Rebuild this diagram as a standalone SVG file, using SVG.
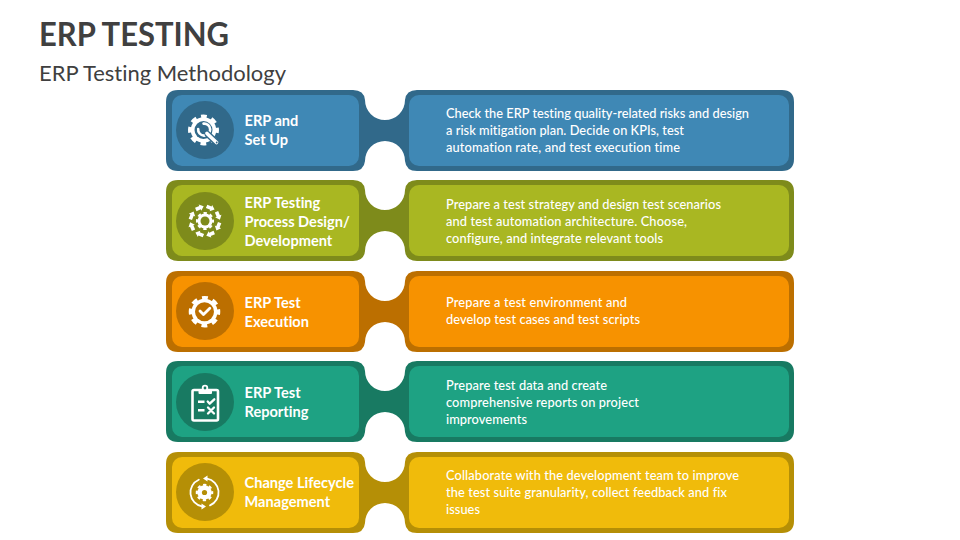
<svg xmlns="http://www.w3.org/2000/svg" width="960" height="540" viewBox="0 0 960 540">
<defs>
<style>
text{font-family:"Lato","Liberation Sans",sans-serif;font-variant-ligatures:none}
.t{font-size:32px;font-weight:700;fill:#404040}
.s{font-size:21.8px;fill:#404040}
.h{font-size:14.6px;font-weight:700;fill:#fff}
.b{font-size:12.8px;font-weight:500;fill:#fff}
.w{fill:#fff}
.ln{fill:none;stroke:#fff;stroke-linecap:round;stroke-linejoin:round}
</style>
<path id="shell" d="M178 0H353Q364 0 365 10A20 20 0 0 0 405 10Q406 0 417 0H782Q794 0 794 12V69Q794 81 782 81H417Q406 81 405 71A20 20 0 0 0 365 71Q364 81 353 81H178Q166 81 166 69V12Q166 0 178 0Z"/>
<rect id="il" x="172" y="5" width="187" height="71" rx="10"/>
<rect id="ir" x="409" y="5" width="380" height="71" rx="10"/>
<g id="gear">
<circle r="12" fill="#fff"/>
<circle r="12.8" fill="none" stroke="#fff" stroke-width="3.6" stroke-dasharray="5.4 4.65" stroke-dashoffset="2.7"/>
</g>
<path id="arw" d="M-4 -16H0.600V-17.600L4.600 -14.200L0.600 -10.800V-12.400H-4Z" fill="#fff"/>
</defs>
<rect width="960" height="540" fill="#fff"/>
<text class="t" x="39" y="46" textLength="190" lengthAdjust="spacingAndGlyphs">ERP TESTING</text>
<text class="s" x="39" y="81" textLength="247" lengthAdjust="spacingAndGlyphs">ERP Testing Methodology</text>
<g id="connectors"></g>
<g id="node-1" transform="translate(0,90)">
<use href="#shell" fill="#31698A"/><use href="#il" fill="#3F88B5"/><use href="#ir" fill="#3F88B5"/>
<circle cx="205" cy="40" r="29" fill="#31698A"/>
<use href="#gear" transform="translate(203.500,40) scale(1.060)"/>
<circle cx="203.500" cy="40" r="9" fill="#31698A"/>
<path class="ln" d="M200.500 35.500A6 6 0 1 0 208 35.500" stroke-width="2.600" transform="rotate(-45 203.500 40)"/>
<path d="M208 44.500L216.500 52.500" stroke="#31698A" stroke-width="6.500" stroke-linecap="round"/>
<path d="M207 43.500L216.500 52.500" stroke="#fff" stroke-width="3.600" stroke-linecap="round"/>
<circle cx="216.700" cy="52.500" r="0.900" fill="#31698A"/>
<text class="h" x="244.500" y="36">ERP and</text><text class="h" x="244.500" y="55">Set Up</text>
<text class="b" x="446" y="28" textLength="303">Check the ERP testing quality-related risks and design</text>
<text class="b" x="446" y="45" textLength="238">a risk mitigation plan. Decide on KPIs, test</text>
<text class="b" x="446" y="62" textLength="234">automation rate, and test execution time</text>
</g>
<g id="node-2" transform="translate(0,180)">
<use href="#shell" fill="#7E8B1B"/><use href="#il" fill="#A9B722"/><use href="#ir" fill="#A9B722"/>
<circle cx="205" cy="41" r="29" fill="#7E8B1B"/>
<use href="#gear" transform="translate(205,41) scale(.62)"/>
<circle cx="205" cy="41" r="4.500" fill="#7E8B1B"/>
<g transform="translate(205,41)">
<use href="#arw" transform="rotate(22)"/><use href="#arw" transform="rotate(67)"/><use href="#arw" transform="rotate(112)"/><use href="#arw" transform="rotate(157)"/><use href="#arw" transform="rotate(202)"/><use href="#arw" transform="rotate(247)"/><use href="#arw" transform="rotate(292)"/><use href="#arw" transform="rotate(337)"/>
</g>
<text class="h" x="244.500" y="28">ERP Testing</text><text class="h" x="244.500" y="47">Process Design/</text><text class="h" x="244.500" y="66">Development</text>
<text class="b" x="446" y="29" textLength="275">Prepare a test strategy and design test scenarios</text>
<text class="b" x="446" y="46" textLength="241">and test automation architecture. Choose,</text>
<text class="b" x="446" y="63" textLength="217">configure, and integrate relevant tools</text>
</g>
<g id="node-3" transform="translate(0,271)">
<use href="#shell" fill="#BC6F00"/><use href="#il" fill="#F79200"/><use href="#ir" fill="#F79200"/>
<circle cx="205" cy="40" r="29" fill="#BC6F00"/>
<use href="#gear" transform="translate(204.500,40.700) scale(1.080)"/>
<circle cx="204.500" cy="40.700" r="9.500" fill="#BC6F00"/>
<path class="ln" d="M200 40L203.500 43.600L209.800 37.200" stroke-width="2.800"/>
<text class="h" x="244.500" y="37">ERP Test</text><text class="h" x="244.500" y="56">Execution</text>
<text class="b" x="446" y="36" textLength="181">Prepare a test environment and</text>
<text class="b" x="446" y="53" textLength="194">develop test cases and test scripts</text>
</g>
<g id="node-4" transform="translate(0,361)">
<use href="#shell" fill="#187A62"/><use href="#il" fill="#1EA283"/><use href="#ir" fill="#1EA283"/>
<circle cx="205" cy="41" r="29" fill="#187A62"/>
<rect class="ln" x="192.500" y="29" width="25.500" height="30.500" rx="1.500" stroke-width="2.600"/>
<rect x="198.500" y="28" width="13.500" height="5" rx="1" fill="#fff"/>
<circle cx="205" cy="27" r="2.300" fill="#187A62" stroke="#fff" stroke-width="1.800"/>
<path class="ln" d="M198 40.700H204.500M198 49.300H204.500" stroke-width="2.600" style="stroke-linecap:butt"/>
<path class="ln" d="M207.700 40.500L209.700 42.700L214.300 38.300M208 46.500L214 52.500M214 46.500L208 52.500" stroke-width="2.300"/>
<text class="h" x="244.500" y="37">ERP Test</text><text class="h" x="244.500" y="56">Reporting</text>
<text class="b" x="446" y="29" textLength="161">Prepare test data and create</text>
<text class="b" x="446" y="46" textLength="193">comprehensive reports on project</text>
<text class="b" x="446" y="63" textLength="81">improvements</text>
</g>
<g id="node-5" transform="translate(0,452)">
<use href="#shell" fill="#B58F06"/><use href="#il" fill="#F0BB0B"/><use href="#ir" fill="#F0BB0B"/>
<circle cx="205" cy="40" r="29" fill="#B58F06"/>
<use href="#gear" transform="translate(204.500,40.500) scale(.6)"/>
<circle cx="204.500" cy="40.500" r="2.600" fill="#B58F06"/>
<path class="ln" d="M198.800 27.700A14 14 0 0 0 202 54.300" stroke-width="1.800"/>
<path class="ln" d="M207 26.700A14 14 0 0 1 210 53.400" stroke-width="1.800"/>
<path class="w" d="M207.500 23.500V29.500L203 26.500ZM201.500 51.500V57.500L206 54.500Z"/>
<text class="h" x="244.500" y="36">Change Lifecycle</text><text class="h" x="244.500" y="55">Management</text>
<text class="b" x="446" y="28" textLength="293">Collaborate with the development team to improve</text>
<text class="b" x="446" y="45" textLength="281">the test suite granularity, collect feedback and fix</text>
<text class="b" x="446" y="62" textLength="34">issues</text>
</g>
</svg>
